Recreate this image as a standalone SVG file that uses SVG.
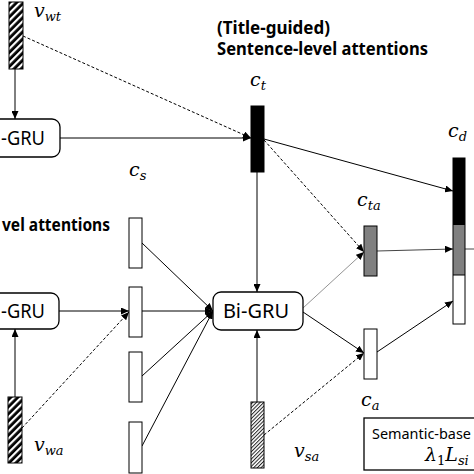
<svg xmlns="http://www.w3.org/2000/svg" width="474" height="474" viewBox="0 0 474 474">
<defs>
<pattern id="hatchThick" patternUnits="userSpaceOnUse" width="5" height="5" patternTransform="rotate(45)">
<rect width="5" height="5" fill="#000"/>
<rect width="2.2" height="5" fill="#fff"/>
</pattern>
<pattern id="hatchFine" patternUnits="userSpaceOnUse" width="2.6" height="2.6" patternTransform="rotate(45)">
<rect width="2.6" height="2.6" fill="#fff"/>
<rect width="1" height="2.6" fill="#222"/>
</pattern>
<marker id="arr" markerUnits="userSpaceOnUse" markerWidth="9" markerHeight="7" refX="8" refY="3.5" orient="auto">
<path d="M0,0 L8,3.5 L0,7 z" fill="#000"/>
</marker>
</defs>
<style>
.ln{stroke:#000;stroke-width:1;fill:none}
.dash{stroke:#000;stroke-width:1;fill:none;stroke-dasharray:3 2}
.gray{stroke:#444;stroke-width:1;fill:none}
.light{stroke:#777;stroke-width:0.8;fill:none}
.box{fill:#fff;stroke:#000;stroke-width:1.3}
.bar{stroke:#000;stroke-width:1}
.gru{font-family:"Noto Sans","Liberation Sans",sans-serif;font-size:20px;fill:#000}
.title{font-family:"Noto Sans","Liberation Sans",sans-serif;font-size:17px;font-weight:bold;fill:#000}
.math{font-family:"DejaVu Serif","Liberation Serif",serif;font-style:italic;font-size:19px;fill:#000}
.sub{font-size:13px}
.sem{font-family:"Noto Sans","Liberation Sans",sans-serif;font-size:14.5px;fill:#000}
</style>
<rect width="474" height="474" fill="#fff"/>

<g id="connectors">
<line class="ln" x1="15" y1="69" x2="15" y2="119" marker-end="url(#arr)"/>
<line class="ln" x1="60" y1="138" x2="251" y2="138" marker-end="url(#arr)"/>
<line class="dash" x1="23" y1="36" x2="251" y2="138" marker-end="url(#arr)"/>
<line class="ln" x1="257" y1="172" x2="257" y2="292" marker-end="url(#arr)"/>
<line class="dash" x1="264" y1="140" x2="364" y2="252" marker-end="url(#arr)"/>
<line class="ln" x1="264" y1="139" x2="453" y2="191" marker-end="url(#arr)"/>
<line class="ln" x1="59" y1="311" x2="129" y2="311" marker-end="url(#arr)"/>
<line class="ln" x1="15" y1="397" x2="15" y2="329" marker-end="url(#arr)"/>
<line class="dash" x1="22" y1="428" x2="129" y2="312" marker-end="url(#arr)"/>
<line class="ln" x1="142" y1="243" x2="213" y2="311" marker-end="url(#arr)"/>
<line class="ln" x1="142" y1="311" x2="213" y2="311" marker-end="url(#arr)"/>
<line class="ln" x1="142" y1="376" x2="213" y2="311" marker-end="url(#arr)"/>
<line class="ln" x1="142" y1="446" x2="213" y2="311" marker-end="url(#arr)"/>
<line class="light" x1="303" y1="308" x2="364" y2="252" marker-end="url(#arr)"/>
<line class="ln" x1="303" y1="312" x2="364" y2="353" marker-end="url(#arr)"/>
<line class="dash" x1="264" y1="435" x2="364" y2="353" marker-end="url(#arr)"/>
<line class="ln" x1="257" y1="402" x2="257" y2="330" marker-end="url(#arr)"/>
<line class="gray" x1="377" y1="251" x2="453" y2="249" marker-end="url(#arr)"/>
<line class="ln" x1="377" y1="352" x2="453" y2="301" marker-end="url(#arr)"/>
<line class="gray" x1="465" y1="249" x2="474" y2="249"/>
</g>

<g id="titles">
<text class="title" x="217" y="34">(Title-guided)</text>
<text class="title" x="217" y="55" textLength="211" lengthAdjust="spacingAndGlyphs">Sentence-level attentions</text>
<text class="title" x="2" y="231" textLength="108" lengthAdjust="spacingAndGlyphs">vel attentions</text>
</g>

<g id="v_wt">
<rect class="bar" x="9" y="2" width="14" height="67" fill="url(#hatchThick)"/>
<text class="math" x="34" y="17">v<tspan class="sub" dy="4">wt</tspan></text>
</g>

<g id="bigru_top">
<rect class="box" x="-30" y="119" width="90" height="38" rx="8"/>
<text class="gru" x="1" y="145" textLength="44" lengthAdjust="spacingAndGlyphs">-GRU</text>
</g>

<g id="bigru_bottom">
<rect class="box" x="-30" y="293" width="89" height="36" rx="8"/>
<text class="gru" x="1" y="318" textLength="44" lengthAdjust="spacingAndGlyphs">-GRU</text>
</g>

<g id="v_wa">
<rect class="bar" x="8" y="397" width="14" height="66" fill="url(#hatchThick)"/>
<text class="math" x="34" y="451">v<tspan class="sub" dy="4">wa</tspan></text>
</g>

<g id="c_s">
<text class="math" x="129" y="176">c<tspan class="sub" dy="4">s</tspan></text>
<rect class="bar" x="129" y="218" width="13" height="50" fill="#fff"/>
<rect class="bar" x="129" y="287" width="13" height="50" fill="#fff"/>
<rect class="bar" x="129" y="352" width="13" height="50" fill="#fff"/>
<rect class="bar" x="129" y="422" width="13" height="51" fill="#fff"/>
</g>

<g id="bigru_center">
<rect class="box" x="213" y="292" width="90" height="38" rx="8"/>
<text class="gru" x="256" y="318" text-anchor="middle">Bi-GRU</text>
</g>

<g id="c_t">
<rect class="bar" x="251" y="106" width="13" height="66" fill="#000"/>
<text class="math" x="250" y="86">c<tspan class="sub" dy="4">t</tspan></text>
</g>

<g id="v_sa">
<rect class="bar" x="251" y="402" width="13" height="66" fill="url(#hatchFine)"/>
<text class="math" x="294" y="457">v<tspan class="sub" dy="4">sa</tspan></text>
</g>

<g id="c_ta">
<rect class="bar" x="364" y="226" width="13" height="50" fill="#808080"/>
<text class="math" x="357" y="206">c<tspan class="sub" dy="4">ta</tspan></text>
</g>

<g id="c_a">
<rect class="bar" x="364" y="329" width="13" height="50" fill="#fff"/>
<text class="math" x="361" y="406">c<tspan class="sub" dy="4">a</tspan></text>
</g>

<g id="c_d">
<rect x="453" y="158" width="12" height="67" fill="#000"/>
<rect x="453" y="225" width="12" height="50" fill="#808080"/>
<rect x="453" y="275" width="12" height="49" fill="#fff"/>
<rect class="bar" x="453" y="158" width="12" height="166" fill="none"/>
<line class="ln" x1="453" y1="275" x2="465" y2="275"/>
<text class="math" x="448" y="137">c<tspan class="sub" dy="4">d</tspan></text>
</g>

<g id="semantic">
<rect class="box" x="364" y="418" width="130" height="52" stroke-width="1.2"/>
<text class="sem" x="372" y="439" textLength="99" lengthAdjust="spacingAndGlyphs">Semantic-base</text>
<text class="math" x="425" y="461" font-size="21">λ<tspan class="sub" dy="4" font-style="normal">1</tspan><tspan dy="-4">L</tspan><tspan class="sub" dy="4">si</tspan></text>
</g>
</svg>
